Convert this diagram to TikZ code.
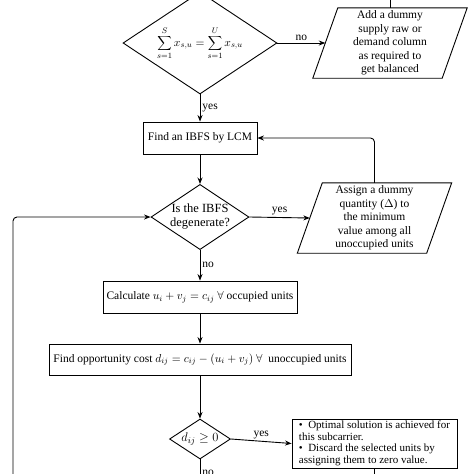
\RequirePackage{fix-cm}
\documentclass[tikz,border=0pt]{standalone}
\usepackage{fontspec}
\setmainfont{Liberation Serif}
\usetikzlibrary{shapes.geometric,arrows.meta}
\begin{document}
\begin{tikzpicture}[x=1pt,y=-1pt,
  every node/.style={font=\fontsize{11.5}{13.4}\selectfont},
  line/.style={line width=0.9pt},
  arr/.style={line width=0.9pt,-{Stealth[length=6.5pt,width=5pt]}},
  procbox/.style={draw,line width=0.9pt,rectangle,inner sep=0pt,minimum height=32pt},
  decision/.style={draw,line width=0.9pt,diamond,inner sep=0pt,aspect=1.5,align=center},
  iobox/.style={rectangle,inner sep=0pt,minimum width=129pt,minimum height=70pt,align=center},
  para/.style={line width=0.9pt},
  lbl/.style={inner sep=2pt}
]
\useasboundingbox (0,0) rectangle (474,474);
\clip (0,0) rectangle (474,474);

\node[decision,minimum width=154pt,minimum height=102pt] (d1) at (200,43)
  {$\displaystyle\sum_{s=1}^{S} x_{s,u} = \sum_{s=1}^{U} x_{s,u}$};
\node[iobox] (p1) at (390,43) {Add a dummy\\supply raw or\\demand column\\as required to\\get balanced};
\draw[para] ([xshift=12.5pt]p1.north west) -- ([xshift=12.5pt]p1.north east) -- ([xshift=-12.5pt]p1.south east) -- ([xshift=-12.5pt]p1.south west) -- cycle;
\node[procbox,minimum width=114pt] (b1) at (200,138) {Find an IBFS by LCM};
\node[decision,minimum width=98pt,minimum height=64pt,font=\fontsize{12.5}{14}\selectfont] (d2) at (200,217) {Is the IBFS\\degenerate?};
\node[iobox] (p2) at (374.5,218) {Assign a dummy\\quantity ($\Delta$) to\\the minimum\\value among all\\unoccupied units};
\draw[para] ([xshift=12.5pt]p2.north west) -- ([xshift=12.5pt]p2.north east) -- ([xshift=-12.5pt]p2.south east) -- ([xshift=-12.5pt]p2.south west) -- cycle;
\node[procbox,minimum width=194pt] (b2) at (200,297) {Calculate $u_i+v_j=c_{ij}$ $\forall$ occupied units};
\node[procbox,minimum width=302pt,minimum height=31pt] (b3) at (200,359.5) {Find opportunity cost $d_{ij}=c_{ij}-(u_i+v_j)$ $\forall$\ \ unoccupied units};
\node[decision,minimum width=61pt,minimum height=40pt,font=\fontsize{12.5}{14}\selectfont] (d3) at (200,439) {$d_{ij}\geq 0$};
\node[draw,line width=0.9pt,rectangle,inner xsep=1.5pt,inner ysep=0pt,minimum width=165pt,minimum height=49pt,align=left,font=\fontsize{11}{11.6}\selectfont] (b4) at (374.5,443.5)
  {\textbullet\ \ Optimal solution is achieved for\\this subcarrier.\\\textbullet\ \ Discard the selected units by\\assigning them to zero value.};

\coordinate (top1) at (390,-5);
\coordinate (out4) at (374.5,480);
\coordinate (outno) at (200,480);
\coordinate (loopbot) at (13,480);

\draw[arr] (d1.east) -- node[lbl,above]{no} (p1.west);
\draw[line] (p1.north) -- (top1);
\draw[arr] (d1.south) -- node[lbl,right]{yes} (b1.north);
\draw[arr] (b1.south) -- (d2.north);
\draw[arr] (d2.east) -- node[lbl,above]{yes} (p2.west);
\draw[arr,rounded corners=4pt] (p2.north) |- (b1.east);
\draw[arr] (d2.south) -- node[lbl,right]{no} (b2.north);
\draw[arr] (b2.south) -- (b3.north);
\draw[arr] (b3.south) -- (d3.north);
\draw[arr] (d3.east) -- node[lbl,above]{yes} (b4.west);
\draw[line] (b4.south) -- (out4);
\draw[line] (d3.south) -- node[lbl,right,pos=0.64]{no} (outno);
\draw[arr,rounded corners=4pt] (loopbot) |- (d2.west);
\end{tikzpicture}
\end{document}
